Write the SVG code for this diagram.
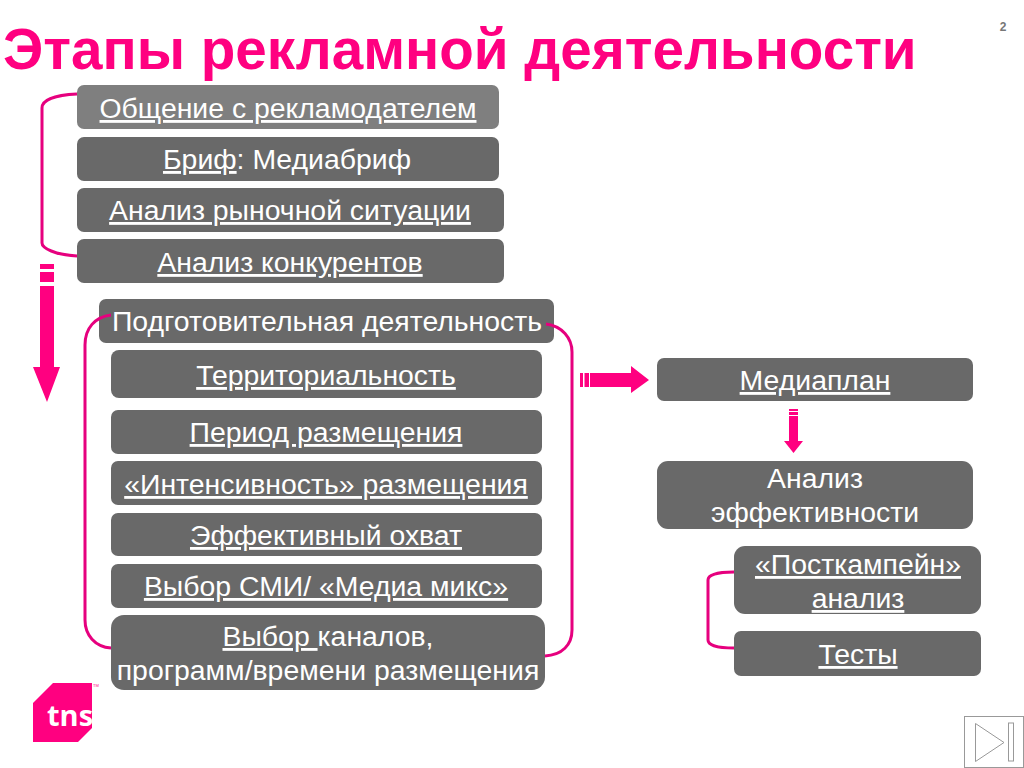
<svg xmlns="http://www.w3.org/2000/svg" width="1024" height="768" viewBox="0 0 1024 768">
<style>
text{font-family:"Liberation Sans",Arial,sans-serif}
.n{fill:#696969}
.t{fill:#fff;font-size:28.4px;text-anchor:middle}
.u{text-decoration:underline}
.c{fill:none;stroke:#e6007e;stroke-width:3}
.a{fill:#ff0080}
.title{fill:#ff0080;font-size:56.6px;font-weight:bold}
</style>
<rect width="1024" height="768" fill="#fff"/>
<text class="title" x="3" y="69">Этапы рекламной деятельности</text>
<text x="1003" y="31" font-size="12" font-weight="bold" fill="#777" text-anchor="middle">2</text>
<g id="n1"><rect x="77" y="85" width="422" height="44" rx="7" fill="#7f7f7f"/><text class="t u" x="288" y="118">Общение с рекламодателем</text></g>
<g id="n2"><rect class="n" x="77" y="137" width="422" height="44" rx="7"/><text class="t" x="287" y="169"><tspan class="u">Бриф</tspan>: Медиабриф</text></g>
<g id="n3"><rect class="n" x="77" y="188" width="427" height="44" rx="7"/><text class="t u" x="290" y="220">Анализ рыночной ситуации</text></g>
<g id="n4"><rect class="n" x="77" y="239" width="427" height="44" rx="7"/><text class="t u" x="290" y="272">Анализ конкурентов</text></g>
<g id="n5"><rect class="n" x="99" y="299" width="455" height="44" rx="7"/><text class="t" x="327" y="331">Подготовительная деятельность</text></g>
<g id="n6"><rect class="n" x="111" y="350" width="431" height="48" rx="8"/><text class="t u" x="326" y="385">Территориальность</text></g>
<g id="n7"><rect class="n" x="111" y="410" width="431" height="44" rx="7"/><text class="t u" x="326" y="442">Период размещения</text></g>
<g id="n8"><rect class="n" x="111" y="461" width="431" height="44" rx="7"/><text class="t u" x="326" y="494">«Интенсивность» размещения</text></g>
<g id="n9"><rect class="n" x="111" y="513" width="431" height="43" rx="7"/><text class="t u" x="326" y="545">Эффективный охват</text></g>
<g id="n10"><rect class="n" x="111" y="564" width="431" height="44" rx="7"/><text class="t u" x="326" y="596">Выбор СМИ/ «Медиа микс»</text></g>
<g id="n11"><rect class="n" x="111" y="615" width="434" height="75" rx="13"/><text class="t" x="328" y="646"><tspan class="u">Выбор </tspan>каналов,</text><text class="t" x="328" y="680">программ/времени размещения</text></g>
<g id="n12"><rect class="n" x="657" y="358" width="316" height="43" rx="7"/><text class="t u" x="815" y="390">Медиаплан</text></g>
<g id="n13"><rect class="n" x="657" y="461" width="316" height="68" rx="11"/><text class="t" x="815" y="488">Анализ</text><text class="t" x="815" y="522">эффективности</text></g>
<g id="n14"><rect class="n" x="734" y="546" width="247" height="68" rx="11"/><text class="t u" x="858" y="574">«Посткампейн»</text><text class="t u" x="858" y="608">анализ</text></g>
<g id="n15"><rect class="n" x="734" y="631" width="247" height="45" rx="7"/><text class="t u" x="858" y="664">Тесты</text></g>
<g id="connectors">
<path class="c" d="M77 94C55 95 42 100 42 108V243C42 248 55 255 77 256"/>
<path class="c" d="M111 315C95 317 85 328 85 345V620C85 635 95 647 111 648"/>
<path class="c" d="M546 324C562 326 572 338 572 352V630C572 645 562 655 545 656"/>
<path class="c" d="M734 572C717 572 708 575 708 580V640C708 645 717 648 734 648"/>
<path class="a" d="M40 264H54V269H40ZM40 272H54V282H40ZM40 286H54V367H60L47 402L33 367H40Z"/>
<path class="a" d="M580 373H583V387H580ZM584.500 373H589V387H584.500ZM590 373H631V366L649 380L631 393V387H590Z"/>
<path class="a" d="M789 409H798V411H789ZM789 412H798V415H789ZM789 416H798V441H803L793.500 453L784 441H789Z"/>
</g>
<g id="logo"><path class="a" d="M53 683H92V728L78 742H33V703Z"/><text x="47" y="726" fill="#fff" font-size="29" font-weight="bold" style="font-family:'Open Sans',sans-serif">tns</text><text x="93" y="687" font-size="4" fill="#ff0080">TM</text></g>
<g id="nav" fill="none" stroke="#999" stroke-width="1"><rect x="964.500" y="716.500" width="59" height="51"/><path d="M975.500 723.500V761.500L1004 742.500Z"/><rect x="1008.500" y="723" width="5" height="38"/></g>
</svg>
